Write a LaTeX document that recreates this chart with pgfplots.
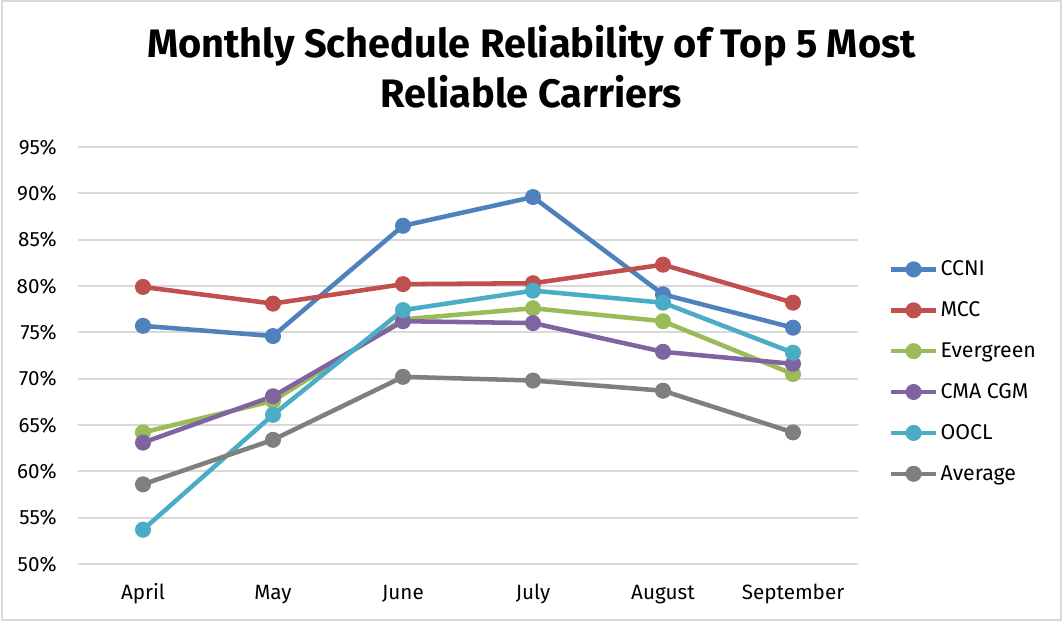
\documentclass[border=0pt]{standalone}
\usepackage{fontspec}
\setmainfont{Fira Sans}
\newfontfamily\titlefont{Fira Sans}
\usepackage{pgfplots}
\pgfplotsset{compat=1.18}

\definecolor{cCCNI}{HTML}{4F81BD}
\definecolor{cMCC}{HTML}{C0504D}
\definecolor{cEvg}{HTML}{9BBB59}
\definecolor{cCMA}{HTML}{8064A2}
\definecolor{cOOCL}{HTML}{4BACC6}
\definecolor{cAvg}{HTML}{7F7F7F}
\definecolor{gridc}{HTML}{D9D9D9}

\begin{document}
\begin{tikzpicture}
% 1 px of the reference = 0.75pt
\useasboundingbox (0,0) rectangle (797.25pt,466.5pt);
\draw[gridc,line width=1.5pt] (1.5pt,1.5pt) rectangle (795.75pt,465.75pt);
\node[font=\titlefont\bfseries\fontsize{29.8}{37.5}\selectfont,anchor=base] at (398.6pt,423.2pt)
  {Monthly Schedule Reliability of Top 5 Most};
\node[font=\titlefont\bfseries\fontsize{29.8}{37.5}\selectfont,anchor=base] at (398.6pt,385.5pt)
  {Reliable Carriers};
\begin{axis}[
  at={(58.5pt,43.5pt)}, anchor=south west,
  scale only axis,
  width=585pt, height=312.75pt,
  xmin=-0.5, xmax=5.5,
  ymin=50, ymax=95,
  xtick={0,1,2,3,4,5},
  xticklabels={April,May,June,July,August,September},
  ytick={50,55,...,95},
  yticklabel={\pgfmathprintnumber{\tick}\%},
  ymajorgrids,
  grid style={gridc,line width=1.5pt},
  axis line style={draw=none},
  major tick length=0pt,
  tick label style={font=\fontsize{15.5}{18}\selectfont},
  /pgf/number format/assume math mode=true,
  yticklabel style={xshift=-12.5pt},
  xticklabel style={anchor=base, yshift=-26.3pt},
  every axis plot/.append style={line width=3.4pt, mark=*, mark size=4.3pt},
  legend style={at={(1.039,0.4616)}, anchor=west, draw=none, fill=none,
    font=\fontsize{16}{18}\selectfont, row sep=14pt,
    inner sep=0pt, nodes={inner xsep=1.5pt}},
  legend cell align=left,
  legend image code/.code={
    \draw[mark repeat=2,mark phase=2,#1] plot coordinates {(0,0) (17pt,0) (34pt,0)};},
]
\addplot[cCCNI, mark options={fill=cCCNI}] coordinates {(0,75.7) (1,74.6) (2,86.5) (3,89.6) (4,79.1) (5,75.5)};
\addplot[cMCC, mark options={fill=cMCC}] coordinates {(0,79.9) (1,78.1) (2,80.2) (3,80.3) (4,82.3) (5,78.2)};
\addplot[cEvg, mark options={fill=cEvg}] coordinates {(0,64.2) (1,67.6) (2,76.4) (3,77.6) (4,76.2) (5,70.5)};
\addplot[cCMA, mark options={fill=cCMA}] coordinates {(0,63.1) (1,68.1) (2,76.2) (3,76.0) (4,72.9) (5,71.6)};
\addplot[cOOCL, mark options={fill=cOOCL}] coordinates {(0,53.7) (1,66.1) (2,77.4) (3,79.5) (4,78.2) (5,72.8)};
\addplot[cAvg, mark options={fill=cAvg}] coordinates {(0,58.6) (1,63.4) (2,70.2) (3,69.8) (4,68.7) (5,64.2)};
\legend{CCNI,MCC,Evergreen,CMA CGM,OOCL,Average}
\end{axis}
\end{tikzpicture}
\end{document}
